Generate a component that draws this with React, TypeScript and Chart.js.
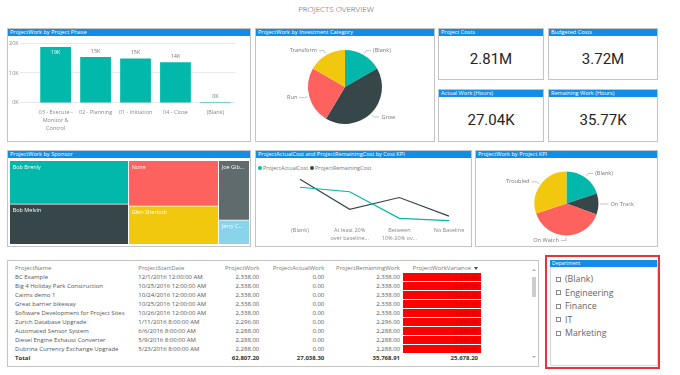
import React, { useEffect, useRef } from "react";
import { Chart, registerables } from "chart.js";
Chart.register(...registerables);

const FONT = "'Open Sans', 'Noto Sans', sans-serif";
const TEAL = "#01B8AA";
const DARK = "#374649";
const RED = "#FD625E";
const YELLOW = "#F2C80F";
const GRAY = "#5F6B6D";
const LIGHTBLUE = "#8AD4EB";
const HEADER_BLUE = "#118de6";

// ---------- data ----------
const phaseLabels: (string | string[])[] = [["03 - Execute -", "Monitor &", "Control"], "02 - Planning", "01 - Initiation", "04 - Close", "(Blank)"];
const phaseWork = [18700, 15300, 14800, 13600, 300];
const phaseTickValues = [0, 10000, 20000];

const investLabels = ["(Blank)", "Grow", "Run", "Transform"];
const investWork = [10500, 26300, 15500, 10500];
const investColors = [TEAL, DARK, RED, YELLOW];

const kpiLabels = ["(Blank)", "On Track", "On Watch", "Troubled"];
const kpiWork = [12500, 6700, 24700, 18900];
const kpiColors = [TEAL, DARK, RED, YELLOW];

const sponsorNames = ["Bob Brenly", "Bob Melvin", "None", "Glen Sherlock", "Joe Gib...", "Jerry C..."];
const sponsorWork = [15980, 15050, 12610, 10750, 5530, 2260];
const sponsorColors = [TEAL, DARK, RED, YELLOW, GRAY, LIGHTBLUE];
const sponsorColumns = [[0, 1], [2, 3], [4, 5]]; // treemap columns (top, bottom)

const costKpiLabels = [["(Blank)"], ["At least 20%", "over baseline..."], ["Between", "10%-20% ov..."], ["No Baseline"]];
const actualCost = [1150000, 1010000, 180000, 110000];
const remainingCost = [1400000, 460000, 830000, 250000];
const costSeries = ["ProjectActualCost", "ProjectRemainingCost"];

const cardTitles = ["Project Costs", "Budgeted Costs", "Actual Work (Hours)", "Remaining Work (Hours)"];
const cardValues = ["2.81M", "3.72M", "27.04K", "35.77K"];

const tableHeaders = ["ProjectName", "ProjectStartDate", "ProjectWork", "ProjectActualWork", "ProjectRemainingWork", "ProjectWorkVariance"];
const projectNames = [
  "BC Example",
  "Big 4 Holiday Park Construction",
  "Cairns demo 1",
  "Great barrier bikeway",
  "Software Development for Project Sites",
  "Zurich Database Upgrade",
  "Automated Sensor System",
  "Diesel Engine Exhaust Converter",
  "Dubrina Currency Exchange Upgrade",
];
const startDates = [
  "12/1/2016 12:00:00 AM",
  "10/25/2016 12:00:00 AM",
  "10/24/2016 12:00:00 AM",
  "10/25/2016 12:00:00 AM",
  "10/26/2016 12:00:00 AM",
  "1/11/2016 8:00:00 AM",
  "6/6/2016 8:00:00 AM",
  "5/9/2016 8:00:00 AM",
  "5/23/2016 8:00:00 AM",
];
const projectWork = [2338, 2338, 2338, 2338, 2338, 2296, 2288, 2288, 2288];
const actualWork = [0, 0, 0, 0, 0, 0, 0, 0, 0];
const remainingWork = [2338, 2338, 2338, 2338, 2338, 2296, 2288, 2288, 2288];
const workVariance = [2338, 2338, 2338, 2338, 2338, 2296, 2288, 2288, 2288];
const tableTotals = ["62,807.20", "27,038.30", "35,768.91", "25,678.20"];

const departments = ["(Blank)", "Engineering", "Finance", "IT", "Marketing"];

// ---------- helpers ----------
const fmt = (v: number) => v.toLocaleString("en-US", { minimumFractionDigits: 2, maximumFractionDigits: 2 });

function ChartBox({ left, top, width, height, make }: { left: number; top: number; width: number; height: number; make: () => any }) {
  const ref = useRef<HTMLCanvasElement>(null);
  useEffect(() => {
    const chart = new Chart(ref.current as HTMLCanvasElement, make());
    return () => chart.destroy();
  }, []);
  return (
    <div style={{ position: "absolute", left, top, width, height }}>
      <canvas ref={ref} width={Math.round(width)} height={Math.round(height)} style={{ display: "block", width: Math.round(width), height: Math.round(height) }} />
    </div>
  );
}

function Panel({ x, y, w, h, title, border = "1px solid #c4c4c4" }: { x: number; y: number; w: number; h: number; title?: string; border?: string }) {
  return (
    <div style={{ position: "absolute", left: x, top: y, width: w, height: h, border, boxSizing: "border-box", background: "#fff" }}>
      {title && (
        <div style={{ height: 7, background: HEADER_BLUE, color: "#fff", fontSize: 5.6, lineHeight: "7px", paddingLeft: 2, fontFamily: FONT, whiteSpace: "nowrap", overflow: "hidden" }}>{title}</div>
      )}
    </div>
  );
}

const pieLabelPlugin = {
  id: "pieLabels",
  afterDraw(chart: any) {
    const ctx = chart.ctx;
    const meta = chart.getDatasetMeta(0);
    const labels = chart.data.labels as string[];
    ctx.save();
    ctx.font = `5.6px ${FONT}`;
    ctx.textBaseline = "middle";
    meta.data.forEach((arc: any, i: number) => {
      const { x, y, startAngle, endAngle, outerRadius } = arc.getProps(["x", "y", "startAngle", "endAngle", "outerRadius"], true);
      const mid = (startAngle + endAngle) / 2;
      const c = Math.cos(mid);
      const s = Math.sin(mid);
      const x1 = x + c * (outerRadius + 1.5);
      const y1 = y + s * (outerRadius + 1.5);
      const x2 = x + c * (outerRadius + 5);
      const y2 = y + s * (outerRadius + 5);
      const right = c >= 0;
      const x3 = x2 + (right ? 5 : -5);
      ctx.strokeStyle = "#aaaaaa";
      ctx.lineWidth = 0.7;
      ctx.beginPath();
      ctx.moveTo(x1, y1);
      ctx.lineTo(x2, y2);
      ctx.lineTo(x3, y2);
      ctx.stroke();
      ctx.fillStyle = "#777";
      ctx.textAlign = right ? "left" : "right";
      ctx.fillText(labels[i], x3 + (right ? 2 : -2), y2);
    });
    ctx.restore();
  },
};

function pieConfig(labels: string[], data: number[], colors: string[], padTop: number, padBottom: number) {
  return {
    type: "pie",
    data: { labels, datasets: [{ data, backgroundColor: colors, borderWidth: 0, hoverOffset: 0 }] },
    options: {
      responsive: false,
      animation: false,
      events: [],
      layout: { padding: { top: padTop, bottom: padBottom, left: 0, right: 0 } },
      plugins: { legend: { display: false }, tooltip: { enabled: false } },
    },
    plugins: [pieLabelPlugin],
  };
}

const barLabelPlugin = {
  id: "barLabels",
  afterDatasetsDraw(chart: any) {
    const { ctx, chartArea } = chart;
    const meta = chart.getDatasetMeta(0);
    const data = chart.data.datasets[0].data as number[];
    ctx.save();
    ctx.font = `5.5px ${FONT}`;
    ctx.textAlign = "center";
    ctx.textBaseline = "middle";
    meta.data.forEach((bar: any, i: number) => {
      const txt = Math.round(data[i] / 1000) + "K";
      if (bar.y - 11 < chartArea.top) {
        ctx.fillStyle = "#fff";
        ctx.fillText(txt, bar.x, bar.y + 6);
      } else {
        ctx.fillStyle = "#777";
        ctx.fillText(txt, bar.x, bar.y - 6);
      }
    });
    ctx.restore();
  },
};

function barConfig() {
  return {
    type: "bar",
    data: { labels: phaseLabels, datasets: [{ data: phaseWork, backgroundColor: TEAL, barPercentage: 0.77, categoryPercentage: 1 }] },
    options: {
      responsive: false,
      animation: false,
      events: [],
      layout: { padding: { top: 7, right: 14.6, bottom: 3, left: 0 } },
      scales: {
        x: {
          grid: { display: false, drawTicks: false },
          border: { display: false },
          ticks: { font: { family: FONT, size: 5.5, lineHeight: 1.4 }, color: "#888", padding: 6, maxRotation: 0, autoSkip: false },
        },
        y: {
          min: 0,
          max: 20000,
          afterBuildTicks: (axis: any) => {
            axis.ticks = phaseTickValues.map((v) => ({ value: v }));
          },
          grid: { color: "#e3e3e3", lineWidth: 0.8, drawTicks: true, tickLength: 16 },
          border: { display: false },
          ticks: { font: { family: FONT, size: 5.5 }, color: "#888", padding: 1, callback: (v: any) => Number(v) / 1000 + "K" },
        },
      },
      plugins: { legend: { display: false }, tooltip: { enabled: false } },
    },
    plugins: [barLabelPlugin],
  };
}

const treemapLabelPlugin = {
  id: "treemapLabels",
  afterDatasetsDraw(chart: any) {
    const ctx = chart.ctx;
    ctx.save();
    ctx.font = `5.5px ${FONT}`;
    ctx.fillStyle = "#fff";
    ctx.textAlign = "left";
    ctx.textBaseline = "middle";
    chart.data.datasets.forEach((ds: any, di: number) => {
      const meta = chart.getDatasetMeta(di);
      meta.data.forEach((bar: any) => {
        const left = bar.x - bar.width / 2;
        const top = Math.min(bar.y, bar.base);
        ctx.fillText(ds.label, left + 2.7, top + 6.5);
      });
    });
    ctx.restore();
  },
};

function treemapColumnConfig(idx: number[]) {
  const [topI, botI] = idx;
  const total = sponsorWork[topI] + sponsorWork[botI];
  return {
    type: "bar",
    data: {
      labels: [""],
      datasets: [
        { label: sponsorNames[botI], data: [sponsorWork[botI]], backgroundColor: sponsorColors[botI], borderColor: "#fff", borderWidth: { top: 1, left: 0, right: 0, bottom: 0 }, borderSkipped: false, barPercentage: 1, categoryPercentage: 1 },
        { label: sponsorNames[topI], data: [sponsorWork[topI]], backgroundColor: sponsorColors[topI], borderWidth: 0, barPercentage: 1, categoryPercentage: 1 },
      ],
    },
    options: {
      responsive: false,
      animation: false,
      events: [],
      layout: { padding: 0 },
      scales: {
        x: { display: false, stacked: true, offset: true },
        y: { display: false, stacked: true, min: 0, max: total },
      },
      plugins: { legend: { display: false }, tooltip: { enabled: false } },
    },
    plugins: [treemapLabelPlugin],
  };
}

function lineConfig() {
  return {
    type: "line",
    data: {
      labels: costKpiLabels,
      datasets: [
        { label: costSeries[0], data: actualCost, borderColor: TEAL, backgroundColor: TEAL, borderWidth: 1.2, pointRadius: 0, tension: 0 },
        { label: costSeries[1], data: remainingCost, borderColor: DARK, backgroundColor: DARK, borderWidth: 1.2, pointRadius: 0, tension: 0 },
      ],
    },
    options: {
      responsive: false,
      animation: false,
      events: [],
      layout: { padding: { left: 44, right: 22, top: 4, bottom: 0 } },
      scales: {
        x: {
          offset: false,
          grid: { display: false, drawTicks: false },
          border: { display: false },
          ticks: { font: { family: FONT, size: 5.5, lineHeight: 1.35 }, color: "#888", padding: 3, maxRotation: 0, autoSkip: false },
        },
        y: { display: false, min: 0, max: 1500000 },
      },
      plugins: { legend: { display: false }, tooltip: { enabled: false } },
    },
  };
}

// ---------- layout ----------
const txt = (extra: React.CSSProperties): React.CSSProperties => ({ position: "absolute", fontFamily: FONT, whiteSpace: "nowrap", ...extra });

function Card({ x, y, w, h, title, value }: { x: number; y: number; w: number; h: number; title: string; value: string }) {
  return (
    <>
      <Panel x={x} y={y} w={w} h={h} title={title} />
      <div style={txt({ left: x, top: y + 24, width: w, textAlign: "center", fontFamily: "Roboto, 'DejaVu Sans', sans-serif", fontSize: 15, lineHeight: "15px", color: "#252423" })}>{value}</div>
    </>
  );
}

function Table() {
  const rowY = (i: number) => 277.7 + 9.03 * i;
  const cellStyle = (center: number, color: string, extra: React.CSSProperties) => txt({ top: center - 4.5, height: 9, lineHeight: "9px", fontSize: 6, color, ...extra });
  const rightCols = [259.3, 324.3, 400, 471];
  const els: React.ReactNode[] = [];
  // header
  els.push(<div key="h0" style={cellStyle(268.7, "#777", { left: 15 })}>{tableHeaders[0]}</div>);
  els.push(<div key="h1" style={cellStyle(268.7, "#777", { left: 138.3 })}>{tableHeaders[1]}</div>);
  [2, 3, 4, 5].forEach((c, k) => {
    els.push(<div key={"h" + c} style={cellStyle(268.7, "#777", { left: rightCols[k] - 90, width: 90, textAlign: "right" })}>{tableHeaders[c]}</div>);
  });
  els.push(<div key="sort" style={{ position: "absolute", left: 474, top: 267, width: 0, height: 0, borderLeft: "2.5px solid transparent", borderRight: "2.5px solid transparent", borderTop: "3px solid #444" }} />);
  projectNames.forEach((name, i) => {
    const cy = rowY(i);
    els.push(<div key={"r" + i + "a"} style={cellStyle(cy, "#555", { left: 15 })}>{name}</div>);
    els.push(<div key={"r" + i + "b"} style={cellStyle(cy, "#555", { left: 138.3 })}>{startDates[i]}</div>);
    els.push(<div key={"r" + i + "c"} style={cellStyle(cy, "#555", { left: 259.3 - 60, width: 60, textAlign: "right" })}>{fmt(projectWork[i])}</div>);
    els.push(<div key={"r" + i + "d"} style={cellStyle(cy, "#555", { left: 324.3 - 60, width: 60, textAlign: "right" })}>{fmt(actualWork[i])}</div>);
    els.push(<div key={"r" + i + "e"} style={cellStyle(cy, "#555", { left: 400 - 60, width: 60, textAlign: "right" })}>{fmt(remainingWork[i])}</div>);
    els.push(<div key={"r" + i + "bg"} style={{ position: "absolute", left: 402.7, top: cy - 4.5, width: 78.3, height: 8.03, background: "#fe0000" }} />);
    els.push(<div key={"r" + i + "f"} style={cellStyle(cy, "#c40000", { left: 478 - 60, width: 60, textAlign: "right" })}>{fmt(workVariance[i])}</div>);
  });
  const ty = rowY(9);
  els.push(<div key="t0" style={cellStyle(ty, "#333", { left: 15, fontWeight: 700 })}>Total</div>);
  [259.3, 324.3, 400, 478].forEach((r, k) => {
    els.push(<div key={"t" + (k + 1)} style={cellStyle(ty, "#333", { left: r - 60, width: 60, textAlign: "right", fontWeight: 700 })}>{tableTotals[k]}</div>);
  });
  // scrollbar
  els.push(<div key="su" style={{ position: "absolute", left: 531.5, top: 268.5, width: 0, height: 0, borderLeft: "2px solid transparent", borderRight: "2px solid transparent", borderBottom: "2.5px solid #aaa" }} />);
  els.push(<div key="st" style={{ position: "absolute", left: 531.5, top: 276.7, width: 4, height: 20, background: "#cdcdcd" }} />);
  els.push(<div key="sd" style={{ position: "absolute", left: 531.5, top: 356, width: 0, height: 0, borderLeft: "2px solid transparent", borderRight: "2px solid transparent", borderTop: "2.5px solid #aaa" }} />);
  return (
    <>
      <Panel x={7} y={260} w={532} h={107} />
      {els}
    </>
  );
}

function Slicer() {
  return (
    <>
      <div style={{ position: "absolute", left: 545, top: 255, width: 115, height: 114, border: "2.5px solid #e8323c", boxSizing: "border-box", background: "#fff" }} />
      <div style={{ position: "absolute", left: 549.5, top: 259.5, width: 108, height: 106, border: "0.5px solid #d8d8d8", boxSizing: "border-box" }} />
      <div style={txt({ left: 550, top: 260, width: 107, height: 6.7, background: HEADER_BLUE, color: "#fff", fontSize: 5, lineHeight: "6.7px", paddingLeft: 2, boxSizing: "border-box" })}>Department</div>
      {departments.map((d, i) => {
        const cy = 279.3 + 13.5 * i;
        return (
          <React.Fragment key={d}>
            <div style={{ position: "absolute", left: 555.5, top: cy - 2.5, width: 5, height: 5, border: "0.8px solid #8a8a8a", boxSizing: "border-box" }} />
            <div style={txt({ left: 565, top: cy - 6, height: 12, lineHeight: "12px", fontSize: 8.8, color: "#666" })}>{d}</div>
          </React.Fragment>
        );
      })}
    </>
  );
}

function Treemap() {
  const colTotals = sponsorColumns.map((c) => c.reduce((s, i) => s + sponsorWork[i], 0));
  const grand = colTotals.reduce((a, b) => a + b, 0);
  const areaLeft = 10;
  const areaWidth = 238.3;
  const gap = 1;
  const usable = areaWidth - gap * (sponsorColumns.length - 1);
  let x = areaLeft;
  return (
    <>
      {sponsorColumns.map((col, k) => {
        const w = (colTotals[k] / grand) * usable;
        const left = x;
        x += w + gap;
        return <ChartBox key={k} left={left} top={161} width={w} height={83.3} make={() => treemapColumnConfig(col)} />;
      })}
    </>
  );
}

export default function App() {
  useEffect(() => {
    document.body.style.margin = "0";
  }, []);
  return (
    <div style={{ position: "absolute", left: 0, top: 0, width: 680, height: 375, background: "#fff", overflow: "hidden", fontFamily: FONT }}>
      <div style={txt({ left: 0, top: 3, width: 672, textAlign: "center", fontSize: 8, lineHeight: "12px", color: "#555", fontWeight: 300 })}>PROJECTS OVERVIEW</div>

      <Panel x={7} y={28} w={244} h={114} title="ProjectWork by Project Phase" />
      <ChartBox left={8} top={36} width={242} height={105} make={barConfig} />

      <Panel x={255} y={28} w={180} h={114} title="ProjectWork by Investment Category" />
      <ChartBox left={256} top={36} width={178} height={105} make={() => pieConfig(investLabels, investWork, investColors, 14, 17)} />

      <Card x={438} y={28} w={106} h={52} title={cardTitles[0]} value={cardValues[0]} />
      <Card x={548} y={28} w={110} h={52} title={cardTitles[1]} value={cardValues[1]} />
      <Card x={438} y={89} w={106} h={53} title={cardTitles[2]} value={cardValues[2]} />
      <Card x={548} y={89} w={110} h={53} title={cardTitles[3]} value={cardValues[3]} />

      <Panel x={7} y={150} w={244} h={97} title="ProjectWork by Sponsor" />
      <Treemap />

      <Panel x={255} y={150} w={217} h={97} title="ProjectActualCost and ProjectRemainingCost by Cost KPI" />
      {costSeries.map((s, i) => (
        <React.Fragment key={s}>
          <div style={{ position: "absolute", left: i === 0 ? 258 : 310, top: 166, width: 4, height: 4, borderRadius: 2, background: i === 0 ? TEAL : DARK }} />
          <div style={txt({ left: i === 0 ? 263 : 315, top: 164, height: 8, lineHeight: "8px", fontSize: 5.5, color: "#777" })}>{s}</div>
        </React.Fragment>
      ))}
      <ChartBox left={256} top={172} width={215} height={73} make={lineConfig} />

      <Panel x={475} y={150} w={183} h={97} title="ProjectWork by Project KPI" />
      <ChartBox left={476} top={158} width={181} height={88} make={() => pieConfig(kpiLabels, kpiWork, kpiColors, 13.5, 10.5)} />

      <Table />
      <Slicer />
    </div>
  );
}
